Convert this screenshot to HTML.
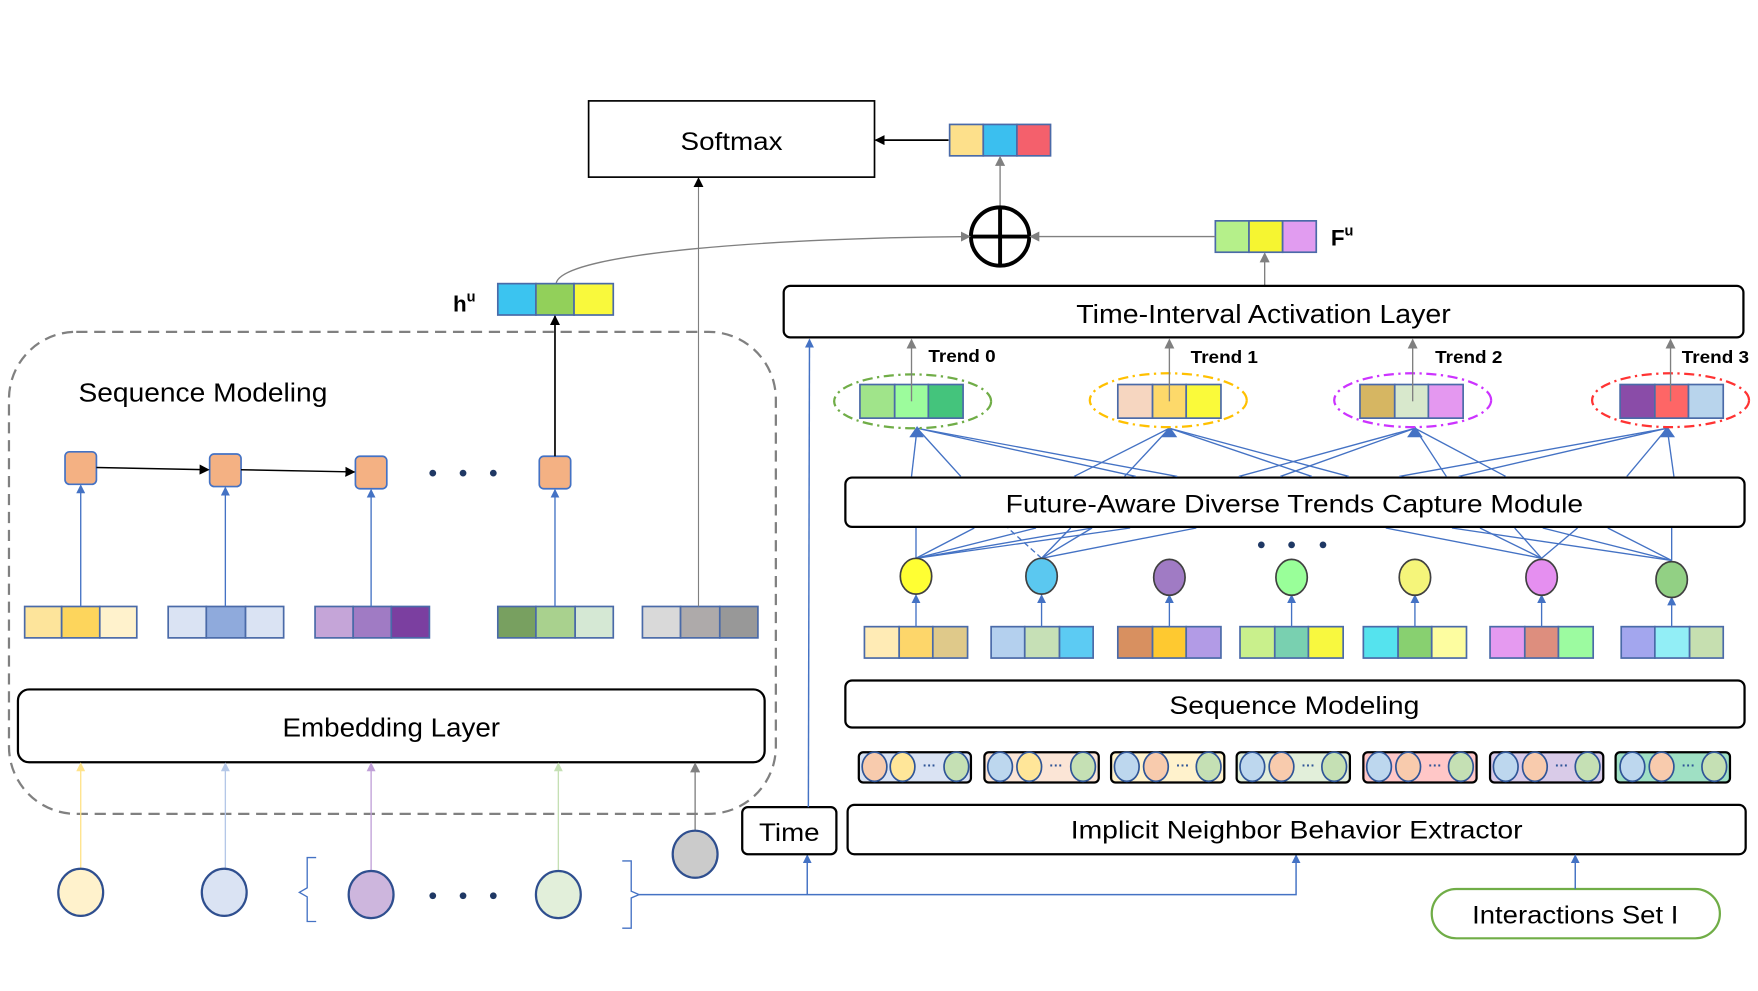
<!DOCTYPE html>
<html><head><meta charset="utf-8"><style>
html,body{margin:0;padding:0;background:#fff;}
svg{display:block;}
text{font-family:"Liberation Sans",sans-serif;}
</style></head><body>
<svg width="1758" height="991" viewBox="0 0 1568 884" preserveAspectRatio="none" xmlns="http://www.w3.org/2000/svg">
<defs>
<marker id="ab" markerWidth="8" markerHeight="8" refX="7" refY="4" orient="auto" markerUnits="userSpaceOnUse"><path d="M0,0 L8,4 L0,8 z" fill="#4472c4"/></marker>
<marker id="ak" markerWidth="9" markerHeight="9" refX="8" refY="4.5" orient="auto" markerUnits="userSpaceOnUse"><path d="M0,0 L9,4.5 L0,9 z" fill="#000"/></marker>
<marker id="ag" markerWidth="9" markerHeight="9" refX="8" refY="4.5" orient="auto" markerUnits="userSpaceOnUse"><path d="M0,0 L9,4.5 L0,9 z" fill="#808080"/></marker>
<marker id="ay" markerWidth="8" markerHeight="8" refX="7" refY="4" orient="auto" markerUnits="userSpaceOnUse"><path d="M0,0 L8,4 L0,8 z" fill="#ffe38a"/></marker>
<marker id="alb" markerWidth="8" markerHeight="8" refX="7" refY="4" orient="auto" markerUnits="userSpaceOnUse"><path d="M0,0 L8,4 L0,8 z" fill="#b4c7e7"/></marker>
<marker id="ap" markerWidth="8" markerHeight="8" refX="7" refY="4" orient="auto" markerUnits="userSpaceOnUse"><path d="M0,0 L8,4 L0,8 z" fill="#c0a0d8"/></marker>
<marker id="agr" markerWidth="8" markerHeight="8" refX="7" refY="4" orient="auto" markerUnits="userSpaceOnUse"><path d="M0,0 L8,4 L0,8 z" fill="#c5e0b4"/></marker>
</defs>

<!-- Softmax -->
<rect x="525" y="90" width="255" height="68" fill="#fff" stroke="#000" stroke-width="1.5"/>
<text x="607" y="134" font-size="22" textLength="91" lengthAdjust="spacingAndGlyphs">Softmax</text>
<g stroke="#4a6aa8" stroke-width="1.5">
<rect x="847" y="111" width="30" height="28" fill="#fde08b"/><rect x="877" y="111" width="30" height="28" fill="#3bbfef"/><rect x="907" y="111" width="30" height="28" fill="#f4606c"/>
</g>
<line x1="846" y1="125" x2="781" y2="125" stroke="#000" stroke-width="1.5" marker-end="url(#ak)"/>
<line x1="892" y1="185" x2="892" y2="140" stroke="#808080" stroke-width="1.2" marker-end="url(#ag)"/>
<circle cx="892" cy="211" r="26" fill="#fff" stroke="#000" stroke-width="3.5"/>
<line x1="866" y1="211" x2="918" y2="211" stroke="#000" stroke-width="3.5"/>
<line x1="892" y1="185" x2="892" y2="237" stroke="#000" stroke-width="3.5"/>
<g stroke="#4a6aa8" stroke-width="1.5">
<rect x="1084" y="197" width="30" height="28" fill="#b5f08a"/><rect x="1114" y="197" width="30" height="28" fill="#f6f531"/><rect x="1144" y="197" width="30" height="28" fill="#e19cf0"/>
</g>
<text x="1187" y="219" font-size="20" font-weight="bold">F<tspan font-size="13" dy="-9">u</tspan></text>
<line x1="1084" y1="211" x2="919" y2="211" stroke="#808080" stroke-width="1.2" marker-end="url(#ag)"/>
<line x1="1128" y1="255" x2="1128" y2="226" stroke="#808080" stroke-width="1.2" marker-end="url(#ag)"/>
<path d="M496,253 C500,225 700,212 865,211" fill="none" stroke="#808080" stroke-width="1.2" marker-end="url(#ag)"/>

<!-- h^u -->
<g stroke="#4a6aa8" stroke-width="1.5">
<rect x="444" y="253" width="34" height="28" fill="#3bc4f0"/><rect x="478" y="253" width="34" height="28" fill="#92d05a"/><rect x="512" y="253" width="35" height="28" fill="#f9f93c"/>
</g>
<text x="404" y="278" font-size="20" font-weight="bold">h<tspan font-size="13" dy="-9">u</tspan></text>

<!-- dashed container -->
<rect x="8" y="296" width="684" height="430" rx="60" fill="none" stroke="#808080" stroke-width="2" stroke-dasharray="10,6"/>
<text x="70" y="358" font-size="23" textLength="222" lengthAdjust="spacingAndGlyphs">Sequence Modeling</text>

<!-- orange chain -->
<g fill="#f4b183" stroke="#4472c4" stroke-width="1.5">
<rect x="58" y="403" width="28" height="29" rx="4"/><rect x="187" y="405" width="28" height="29" rx="4"/><rect x="317" y="407" width="28" height="29" rx="4"/><rect x="481" y="407" width="28" height="29" rx="4"/>
</g>
<line x1="86" y1="417" x2="186" y2="419" stroke="#000" stroke-width="1.3" marker-end="url(#ak)"/>
<line x1="215" y1="419" x2="316" y2="421" stroke="#000" stroke-width="1.3" marker-end="url(#ak)"/>
<g fill="#1f3864"><circle cx="386" cy="422" r="3"/><circle cx="413" cy="422" r="3"/><circle cx="440" cy="422" r="3"/></g>
<line x1="495" y1="407" x2="495" y2="282" stroke="#000" stroke-width="1.5" marker-end="url(#ak)"/>

<!-- vectors left -->
<g stroke="#4a6aa8" stroke-width="1.5">
<rect x="22" y="541" width="33" height="28" fill="#fde49b"/><rect x="55" y="541" width="34" height="28" fill="#fdd55c"/><rect x="89" y="541" width="33" height="28" fill="#fff2cc"/>
<rect x="150" y="541" width="34" height="28" fill="#dae3f3"/><rect x="184" y="541" width="35" height="28" fill="#8faadc"/><rect x="219" y="541" width="34" height="28" fill="#dae3f3"/>
<rect x="281" y="541" width="34" height="28" fill="#c5a5d8"/><rect x="315" y="541" width="34" height="28" fill="#a07bc4"/><rect x="349" y="541" width="34" height="28" fill="#7b3fa0"/>
<rect x="444" y="541" width="34" height="28" fill="#78a060"/><rect x="478" y="541" width="35" height="28" fill="#a9d18e"/><rect x="513" y="541" width="34" height="28" fill="#d5e8d4"/>
<rect x="573" y="541" width="34" height="28" fill="#d9d9d9"/><rect x="607" y="541" width="35" height="28" fill="#aeaaaa"/><rect x="642" y="541" width="34" height="28" fill="#989898"/>
</g>
<g stroke="#4472c4" stroke-width="1.2" marker-end="url(#ab)">
<line x1="72" y1="541" x2="72" y2="433"/><line x1="201" y1="541" x2="201" y2="435"/><line x1="331" y1="541" x2="331" y2="437"/><line x1="495" y1="541" x2="495" y2="437"/>
</g>
<line x1="623" y1="541" x2="623" y2="159" stroke="#808080" stroke-width="1" marker-end="url(#ak)"/>

<!-- Embedding -->
<rect x="16" y="615" width="666" height="65" rx="10" fill="#fff" stroke="#000" stroke-width="2"/>
<text x="252" y="657" font-size="23" textLength="194" lengthAdjust="spacingAndGlyphs">Embedding Layer</text>

<!-- input circles -->
<line x1="72" y1="775" x2="72" y2="681" stroke="#ffe38a" stroke-width="1.2" marker-end="url(#ay)"/>
<line x1="201" y1="775" x2="201" y2="681" stroke="#b4c7e7" stroke-width="1.2" marker-end="url(#alb)"/>
<line x1="331" y1="777" x2="331" y2="681" stroke="#c0a0d8" stroke-width="1.2" marker-end="url(#ap)"/>
<line x1="498" y1="777" x2="498" y2="681" stroke="#c5e0b4" stroke-width="1.2" marker-end="url(#agr)"/>
<line x1="620" y1="741" x2="620" y2="681" stroke="#808080" stroke-width="1.2" marker-end="url(#ag)"/>
<g stroke="#2f4f8f" stroke-width="2">
<ellipse cx="72" cy="796" rx="20" ry="21" fill="#fff2cc"/>
<ellipse cx="200" cy="796" rx="20" ry="21" fill="#dae3f3"/>
<ellipse cx="331" cy="798" rx="20" ry="21" fill="#cdb6dd"/>
<ellipse cx="498" cy="798" rx="20" ry="21" fill="#e2efda"/>
<ellipse cx="620" cy="762" rx="20" ry="21" fill="#cbcbcb"/>
</g>
<g fill="#1f3864"><circle cx="386" cy="799" r="3"/><circle cx="413" cy="799" r="3"/><circle cx="440" cy="799" r="3"/></g>
<path d="M282,765 L274,765 L274,792 L267,796 L274,800 L274,822 L282,822" fill="none" stroke="#4472c4" stroke-width="1.2"/>
<path d="M555,768 L563,768 L563,795 L570,798 L563,801 L563,828 L555,828" fill="none" stroke="#4472c4" stroke-width="1.2"/>
<polyline points="570,798 1156,798 1156,763" fill="none" stroke="#4472c4" stroke-width="1.3" marker-end="url(#ab)"/>
<line x1="720" y1="798" x2="720" y2="763" stroke="#4472c4" stroke-width="1.3" marker-end="url(#ab)"/>

<!-- Time -->
<rect x="662" y="720" width="84" height="42" rx="5" fill="#fff" stroke="#000" stroke-width="2"/>
<text x="677" y="750" font-size="22" textLength="54" lengthAdjust="spacingAndGlyphs">Time</text>
<line x1="721" y1="720" x2="722" y2="303" stroke="#4472c4" stroke-width="1.3" marker-end="url(#ab)"/>

<!-- Implicit -->
<rect x="756" y="718" width="801" height="44" rx="6" fill="#fff" stroke="#000" stroke-width="2"/>
<text x="955" y="748" font-size="22" textLength="403" lengthAdjust="spacingAndGlyphs">Implicit Neighbor Behavior Extractor</text>
<rect x="1277" y="793" width="257" height="44" rx="22" fill="#fff" stroke="#70ad47" stroke-width="2"/>
<text x="1313" y="824" font-size="22" textLength="184" lengthAdjust="spacingAndGlyphs">Interactions Set I</text>
<line x1="1405" y1="793" x2="1405" y2="763" stroke="#4472c4" stroke-width="1.3" marker-end="url(#ab)"/>

<!-- pills -->
<g stroke-width="2">
<rect x="766" y="671" width="100" height="27" rx="4" fill="#dae3f3" stroke="#000"/>
<rect x="878" y="671" width="102" height="27" rx="4" fill="#fbe5d6" stroke="#000"/>
<rect x="991" y="671" width="101" height="27" rx="4" fill="#fff2cc" stroke="#000"/>
<rect x="1103" y="671" width="101" height="27" rx="4" fill="#e2efda" stroke="#000"/>
<rect x="1216" y="671" width="101" height="27" rx="4" fill="#ffc7c7" stroke="#000"/>
<rect x="1329" y="671" width="101" height="27" rx="4" fill="#d9cbe8" stroke="#000"/>
<rect x="1441" y="671" width="102" height="27" rx="4" fill="#9fe0c4" stroke="#000"/>
</g>
<g stroke="#2f5597" stroke-width="1.5">
<ellipse cx="780" cy="684" rx="11" ry="13" fill="#f8cbad"/><ellipse cx="805" cy="684" rx="11" ry="13" fill="#ffe699"/><ellipse cx="853" cy="684" rx="11" ry="13" fill="#c5e0b4"/>
<ellipse cx="892" cy="684" rx="11" ry="13" fill="#bdd7ee"/><ellipse cx="918" cy="684" rx="11" ry="13" fill="#ffe699"/><ellipse cx="966" cy="684" rx="11" ry="13" fill="#c5e0b4"/>
<ellipse cx="1005" cy="684" rx="11" ry="13" fill="#bdd7ee"/><ellipse cx="1031" cy="684" rx="11" ry="13" fill="#f8cbad"/><ellipse cx="1078" cy="684" rx="11" ry="13" fill="#c5e0b4"/>
<ellipse cx="1117" cy="684" rx="11" ry="13" fill="#bdd7ee"/><ellipse cx="1143" cy="684" rx="11" ry="13" fill="#f8cbad"/><ellipse cx="1190" cy="684" rx="11" ry="13" fill="#c5e0b4"/>
<ellipse cx="1230" cy="684" rx="11" ry="13" fill="#bdd7ee"/><ellipse cx="1256" cy="684" rx="11" ry="13" fill="#f8cbad"/><ellipse cx="1303" cy="684" rx="11" ry="13" fill="#c5e0b4"/>
<ellipse cx="1343" cy="684" rx="11" ry="13" fill="#bdd7ee"/><ellipse cx="1369" cy="684" rx="11" ry="13" fill="#f8cbad"/><ellipse cx="1416" cy="684" rx="11" ry="13" fill="#c5e0b4"/>
<ellipse cx="1456" cy="684" rx="11" ry="13" fill="#bdd7ee"/><ellipse cx="1482" cy="684" rx="11" ry="13" fill="#f8cbad"/><ellipse cx="1529" cy="684" rx="11" ry="13" fill="#c5e0b4"/>
</g>
<g font-size="12" fill="#2f5597" font-weight="bold" text-anchor="middle">
<text x="829" y="687">···</text><text x="942" y="687">···</text><text x="1055" y="687">···</text><text x="1167" y="687">···</text><text x="1280" y="687">···</text><text x="1393" y="687">···</text><text x="1506" y="687">···</text>
</g>

<!-- Sequence Modeling right -->
<rect x="754" y="607" width="802" height="42" rx="6" fill="#fff" stroke="#000" stroke-width="2"/>
<text x="1043" y="637" font-size="22" textLength="223" lengthAdjust="spacingAndGlyphs">Sequence Modeling</text>

<!-- vectors right -->
<g stroke="#4a6aa8" stroke-width="1.5">
<rect x="771" y="559" width="31" height="28" fill="#ffebb5"/><rect x="802" y="559" width="30" height="28" fill="#fdd66a"/><rect x="832" y="559" width="31" height="28" fill="#dfc98a"/>
<rect x="884" y="559" width="30" height="28" fill="#b4d0ee"/><rect x="914" y="559" width="31" height="28" fill="#c6e0b6"/><rect x="945" y="559" width="30" height="28" fill="#5ccbf3"/>
<rect x="997" y="559" width="31" height="28" fill="#d89060"/><rect x="1028" y="559" width="30" height="28" fill="#fec930"/><rect x="1058" y="559" width="31" height="28" fill="#b29be6"/>
<rect x="1106" y="559" width="31" height="28" fill="#c9f08c"/><rect x="1137" y="559" width="30" height="28" fill="#79d0b0"/><rect x="1167" y="559" width="31" height="28" fill="#f8f83f"/>
<rect x="1216" y="559" width="31" height="28" fill="#55e3ee"/><rect x="1247" y="559" width="30" height="28" fill="#88d070"/><rect x="1277" y="559" width="31" height="28" fill="#fdfda0"/>
<rect x="1329" y="559" width="31" height="28" fill="#e59af0"/><rect x="1360" y="559" width="30" height="28" fill="#dd8e7e"/><rect x="1390" y="559" width="31" height="28" fill="#9cfba0"/>
<rect x="1446" y="559" width="30" height="28" fill="#a3a6ee"/><rect x="1476" y="559" width="31" height="28" fill="#92eef6"/><rect x="1507" y="559" width="30" height="28" fill="#c6dfb0"/>
</g>
<g stroke="#4472c4" stroke-width="1.2" marker-end="url(#ab)">
<line x1="817" y1="559" x2="817" y2="531"/><line x1="929" y1="559" x2="929" y2="531"/><line x1="1043" y1="559" x2="1043" y2="531"/><line x1="1152" y1="559" x2="1152" y2="531"/><line x1="1262" y1="559" x2="1262" y2="531"/><line x1="1375" y1="559" x2="1375" y2="531"/><line x1="1491" y1="559" x2="1491" y2="533"/>
</g>
<g stroke="#4472c4" stroke-width="1.2">
<line x1="817" y1="498" x2="817" y2="471"/><line x1="817" y1="498" x2="869" y2="471"/><line x1="817" y1="498" x2="924" y2="471"/><line x1="817" y1="498" x2="974" y2="471"/><line x1="817" y1="498" x2="1008" y2="471"/>
<line x1="929" y1="498" x2="899" y2="471" stroke-dasharray="5,3"/><line x1="929" y1="498" x2="955" y2="471"/><line x1="929" y1="498" x2="974" y2="471"/><line x1="929" y1="498" x2="1067" y2="471"/>
<line x1="1375" y1="498" x2="1236" y2="471"/><line x1="1375" y1="498" x2="1320" y2="471"/><line x1="1375" y1="498" x2="1351" y2="471"/><line x1="1375" y1="498" x2="1407" y2="471"/>
<line x1="1491" y1="500" x2="1295" y2="471"/><line x1="1491" y1="500" x2="1376" y2="471"/><line x1="1491" y1="500" x2="1434" y2="471"/><line x1="1491" y1="500" x2="1491" y2="471"/>
</g>
<g stroke="#404040" stroke-width="1.5">
<ellipse cx="817" cy="514" rx="14" ry="16" fill="#ffff33"/>
<ellipse cx="929" cy="514" rx="14" ry="16" fill="#5bc8f0"/>
<ellipse cx="1043" cy="515" rx="14" ry="16" fill="#a07bc4"/>
<ellipse cx="1152" cy="515" rx="14" ry="16" fill="#99ff99"/>
<ellipse cx="1262" cy="515" rx="14" ry="16" fill="#f5f57a"/>
<ellipse cx="1375" cy="515" rx="14" ry="16" fill="#e58ff0"/>
<ellipse cx="1491" cy="517" rx="14" ry="16" fill="#92d084"/>
</g>
<g fill="#1f3864"><circle cx="1125" cy="486" r="3"/><circle cx="1152" cy="486" r="3"/><circle cx="1180" cy="486" r="3"/></g>

<!-- FADT -->
<rect x="754" y="426" width="802" height="44" rx="6" fill="#fff" stroke="#000" stroke-width="2"/>
<text x="897" y="457" font-size="22" textLength="515" lengthAdjust="spacingAndGlyphs">Future-Aware Diverse Trends Capture Module</text>

<g stroke="#4472c4" stroke-width="1.2">
<line x1="813" y1="425" x2="818" y2="382"/><line x1="857" y1="425" x2="818" y2="382"/><line x1="1013" y1="425" x2="818" y2="382"/><line x1="1050" y1="425" x2="818" y2="382"/>
<line x1="958" y1="425" x2="1043" y2="382"/><line x1="1003" y1="425" x2="1043" y2="382"/><line x1="1170" y1="425" x2="1043" y2="382"/><line x1="1203" y1="425" x2="1043" y2="382"/>
<line x1="1105" y1="425" x2="1262" y2="382"/><line x1="1142" y1="425" x2="1262" y2="382"/><line x1="1290" y1="425" x2="1262" y2="382"/><line x1="1343" y1="425" x2="1262" y2="382"/>
<line x1="1248" y1="425" x2="1487" y2="382"/><line x1="1301" y1="425" x2="1487" y2="382"/><line x1="1451" y1="425" x2="1487" y2="382"/><line x1="1493" y1="425" x2="1487" y2="382"/>
</g>
<g fill="#4472c4">
<path d="M811,390 L818,380 L824,390 z"/><path d="M1036,390 L1043,380 L1050,390 z"/><path d="M1255,390 L1262,380 L1269,390 z"/><path d="M1480,390 L1487,380 L1494,390 z"/>
</g>

<!-- trend vectors -->
<g stroke="#4a6aa8" stroke-width="1.5">
<rect x="767" y="343" width="31" height="30" fill="#a0e48a"/><rect x="798" y="343" width="30" height="30" fill="#9cfc9c"/><rect x="828" y="343" width="31" height="30" fill="#44c47c"/>
<rect x="997" y="343" width="31" height="30" fill="#f6d6c0"/><rect x="1028" y="343" width="30" height="30" fill="#fdd96a"/><rect x="1058" y="343" width="31" height="30" fill="#fafa3a"/>
<rect x="1213" y="343" width="31" height="30" fill="#d6b662"/><rect x="1244" y="343" width="30" height="30" fill="#d8e8cc"/><rect x="1274" y="343" width="31" height="30" fill="#e498f0"/>
<rect x="1445" y="343" width="31" height="30" fill="#8a4ca8"/><rect x="1476" y="343" width="30" height="30" fill="#fe6666"/><rect x="1506" y="343" width="31" height="30" fill="#b8d4ec"/>
</g>
<g fill="none" stroke-width="2" stroke-dasharray="9,4,2,4">
<ellipse cx="814" cy="358" rx="70" ry="24" stroke="#70ad47"/>
<ellipse cx="1042" cy="357" rx="70" ry="24" stroke="#ffc000"/>
<ellipse cx="1260" cy="357" rx="70" ry="24" stroke="#cc33ff"/>
<ellipse cx="1490" cy="357" rx="70" ry="24" stroke="#ff3333"/>
</g>
<g stroke="#808080" stroke-width="1.2" marker-end="url(#ag)">
<line x1="813" y1="358" x2="813" y2="303"/><line x1="1043" y1="358" x2="1043" y2="303"/><line x1="1260" y1="358" x2="1260" y2="303"/><line x1="1490" y1="358" x2="1490" y2="303"/>
</g>
<g font-size="16" font-weight="bold">
<text x="828" y="323" textLength="60" lengthAdjust="spacingAndGlyphs">Trend 0</text><text x="1062" y="324" textLength="60" lengthAdjust="spacingAndGlyphs">Trend 1</text><text x="1280" y="324" textLength="60" lengthAdjust="spacingAndGlyphs">Trend 2</text><text x="1500" y="324" textLength="60" lengthAdjust="spacingAndGlyphs">Trend 3</text>
</g>

<!-- Time-Interval -->
<rect x="699" y="255" width="856" height="46" rx="6" fill="#fff" stroke="#000" stroke-width="2"/>
<text x="960" y="288" font-size="23" textLength="334" lengthAdjust="spacingAndGlyphs">Time-Interval Activation Layer</text>
</svg>
</body></html>
